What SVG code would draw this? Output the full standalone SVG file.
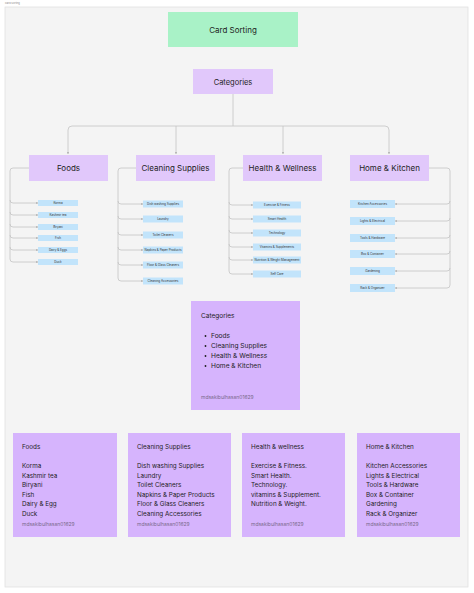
<svg xmlns="http://www.w3.org/2000/svg" width="474" height="593" viewBox="0 0 474 593">
<defs>
<style>
text{font-family:Inter,"Liberation Sans",sans-serif;fill:#1e1e1e}
.cat{fill:#e1c8fb}
.item{fill:#c2e4fb}
.note{fill:#d6b4fd}
.conn{fill:none;stroke:#c4c4c4;stroke-width:0.8}
.it{font-size:3px;text-anchor:middle;fill:#333}
.ct{font-size:8px;text-anchor:middle}
.nt{font-size:6.3px}
.au{font-size:5px;fill:#7a6a8c}
</style>
<marker id="ar" viewBox="0 0 4 4" refX="3.5" refY="2" markerWidth="3" markerHeight="3" orient="auto"><path d="M0,0 L4,2 L0,4 z" fill="#b8b8b8"/></marker>
</defs>
<rect x="0" y="0" width="474" height="593" fill="#ffffff"/>
<text x="5" y="4" style="font-size:2.5px;fill:#888">Card Sorting</text>
<rect x="5" y="7" width="463" height="580" fill="#f4f4f4" stroke="#e2e2e2" stroke-width="0.8"/>

<g id="connectors">
<path class="conn" d="M233,94 V126"/>
<path class="conn" marker-end="url(#ar)" d="M233,126 H72 Q68,126 68,130 V154"/>
<path class="conn" marker-end="url(#ar)" d="M176,126 V154"/>
<path class="conn" marker-end="url(#ar)" d="M283,126 V154"/>
<path class="conn" marker-end="url(#ar)" d="M233,126 H385 Q389,126 389,130 V154"/>
<!-- Foods -->
<path class="conn" marker-end="url(#ar)" d="M29,168 H13 Q10,168 10,171 V200 Q10,203 13,203 H38"/>
<path class="conn" marker-end="url(#ar)" d="M10,200 V212 Q10,215 13,215 H38"/>
<path class="conn" marker-end="url(#ar)" d="M10,212 V224 Q10,227 13,227 H38"/>
<path class="conn" marker-end="url(#ar)" d="M10,224 V235 Q10,238 13,238 H38"/>
<path class="conn" marker-end="url(#ar)" d="M10,235 V247 Q10,250 13,250 H38"/>
<path class="conn" marker-end="url(#ar)" d="M10,247 V259 Q10,262 13,262 H38"/>
<!-- Cleaning -->
<path class="conn" marker-end="url(#ar)" d="M136,168 H121 Q118,168 118,171 V201 Q118,204 121,204 H143"/>
<path class="conn" marker-end="url(#ar)" d="M118,201 V216 Q118,219 121,219 H143"/>
<path class="conn" marker-end="url(#ar)" d="M118,216 V232 Q118,235 121,235 H143"/>
<path class="conn" marker-end="url(#ar)" d="M118,232 V247 Q118,250 121,250 H143"/>
<path class="conn" marker-end="url(#ar)" d="M118,247 V262 Q118,265 121,265 H143"/>
<path class="conn" marker-end="url(#ar)" d="M118,262 V278 Q118,281 121,281 H143"/>
<!-- Health -->
<path class="conn" marker-end="url(#ar)" d="M243,168 H232 Q229,168 229,171 V202 Q229,205 232,205 H253"/>
<path class="conn" marker-end="url(#ar)" d="M229,202 V216 Q229,219 232,219 H253"/>
<path class="conn" marker-end="url(#ar)" d="M229,216 V230 Q229,233 232,233 H253"/>
<path class="conn" marker-end="url(#ar)" d="M229,230 V244 Q229,247 232,247 H253"/>
<path class="conn" marker-end="url(#ar)" d="M229,244 V257 Q229,260 232,260 H253"/>
<path class="conn" marker-end="url(#ar)" d="M229,257 V271 Q229,274 232,274 H253"/>
<!-- Home -->
<path class="conn" marker-end="url(#ar)" d="M429,168 H447 Q450,168 450,171 V201 Q450,204 447,204 H395"/>
<path class="conn" marker-end="url(#ar)" d="M450,201 V218 Q450,221 447,221 H395"/>
<path class="conn" marker-end="url(#ar)" d="M450,218 V235 Q450,238 447,238 H395"/>
<path class="conn" marker-end="url(#ar)" d="M450,235 V251 Q450,254 447,254 H395"/>
<path class="conn" marker-end="url(#ar)" d="M450,251 V268 Q450,271 447,271 H395"/>
<path class="conn" marker-end="url(#ar)" d="M450,268 V285 Q450,288 447,288 H395"/>
</g>

<g id="card-sorting">
<rect x="168" y="12" width="130" height="35" fill="#a9f2c7"/>
<text class="ct" x="233" y="32.5">Card Sorting</text>
</g>
<g id="categories">
<rect class="cat" x="193" y="69" width="80" height="25"/>
<text class="ct" x="233" y="84.5" style="font-size:7.5px">Categories</text>
</g>

<g id="foods">
<rect class="cat" x="29" y="155" width="79" height="26"/>
<text class="ct" x="68.5" y="171">Foods</text>
</g>
<g id="cleaning-supplies">
<rect class="cat" x="136" y="155" width="79" height="26"/>
<text class="ct" x="175.5" y="171">Cleaning Supplies</text>
</g>
<g id="health-wellness">
<rect class="cat" x="243" y="155" width="79" height="26"/>
<text class="ct" x="282.5" y="171">Health &amp; Wellness</text>
</g>
<g id="home-kitchen">
<rect class="cat" x="350" y="155" width="79" height="26"/>
<text class="ct" x="389.5" y="171">Home &amp; Kitchen</text>
</g>

<g id="foods-items">
<g id="f1"><rect class="item" x="38" y="200" width="40" height="6"/><text class="it" x="58" y="204">Korma</text></g>
<g id="f2"><rect class="item" x="38" y="212" width="40" height="6"/><text class="it" x="58" y="216">Kashmir tea</text></g>
<g id="f3"><rect class="item" x="38" y="224" width="40" height="6"/><text class="it" x="58" y="228">Biryani</text></g>
<g id="f4"><rect class="item" x="38" y="235" width="40" height="6"/><text class="it" x="58" y="239">Fish</text></g>
<g id="f5"><rect class="item" x="38" y="247" width="40" height="6"/><text class="it" x="58" y="251">Dairy &amp; Eggs</text></g>
<g id="f6"><rect class="item" x="38" y="259" width="40" height="6"/><text class="it" x="58" y="263">Duck</text></g>
</g>
<g id="cleaning-items">
<g id="c1"><rect class="item" x="143" y="200.5" width="40" height="7"/><text class="it" x="163" y="205">Dish washing Supplies</text></g>
<g id="c2"><rect class="item" x="143" y="215.5" width="40" height="7"/><text class="it" x="163" y="220">Laundry</text></g>
<g id="c3"><rect class="item" x="143" y="231.5" width="40" height="7"/><text class="it" x="163" y="236">Toilet Cleaners</text></g>
<g id="c4"><rect class="item" x="143" y="246.5" width="40" height="7"/><text class="it" x="163" y="251">Napkins &amp; Paper Products</text></g>
<g id="c5"><rect class="item" x="143" y="261.5" width="40" height="7"/><text class="it" x="163" y="266">Floor &amp; Glass Cleaners</text></g>
<g id="c6"><rect class="item" x="143" y="277.5" width="40" height="7"/><text class="it" x="163" y="282">Cleaning Accessories</text></g>
</g>
<g id="health-items">
<g id="h1"><rect class="item" x="253" y="201.5" width="48" height="7"/><text class="it" x="277" y="206">Exercise &amp; Fitness</text></g>
<g id="h2"><rect class="item" x="253" y="215.5" width="48" height="7"/><text class="it" x="277" y="220">Smart Health</text></g>
<g id="h3"><rect class="item" x="253" y="229.5" width="48" height="7"/><text class="it" x="277" y="234">Technology</text></g>
<g id="h4"><rect class="item" x="253" y="243.5" width="48" height="7"/><text class="it" x="277" y="248">Vitamins &amp; Supplements</text></g>
<g id="h5"><rect class="item" x="253" y="256.5" width="48" height="7"/><text class="it" x="277" y="261">Nutrition &amp; Weight Management</text></g>
<g id="h6"><rect class="item" x="253" y="270.5" width="48" height="7"/><text class="it" x="277" y="275">Self Care</text></g>
</g>
<g id="home-items">
<g id="k1"><rect class="item" x="350" y="200" width="45" height="8"/><text class="it" x="372.5" y="205">Kitchen Accessories</text></g>
<g id="k2"><rect class="item" x="350" y="217" width="45" height="8"/><text class="it" x="372.5" y="222">Lights &amp; Electrical</text></g>
<g id="k3"><rect class="item" x="350" y="234" width="45" height="8"/><text class="it" x="372.5" y="239">Tools &amp; Hardware</text></g>
<g id="k4"><rect class="item" x="350" y="250" width="45" height="8"/><text class="it" x="372.5" y="255">Box &amp; Container</text></g>
<g id="k5"><rect class="item" x="350" y="267" width="45" height="8"/><text class="it" x="372.5" y="272">Gardening</text></g>
<g id="k6"><rect class="item" x="350" y="284" width="45" height="8"/><text class="it" x="372.5" y="289">Rack &amp; Organizer</text></g>
</g>

<g id="note-categories">
<rect class="note" x="191" y="301" width="109" height="109"/>
<text x="201" y="318" style="font-size:6.5px">Categories</text>
<circle cx="205.5" cy="336" r="0.9" fill="#1e1e1e"/>
<circle cx="205.5" cy="346" r="0.9" fill="#1e1e1e"/>
<circle cx="205.5" cy="356" r="0.9" fill="#1e1e1e"/>
<circle cx="205.5" cy="366" r="0.9" fill="#1e1e1e"/>
<text x="211" y="338.3" style="font-size:6.6px">Foods</text>
<text x="211" y="348.3" style="font-size:6.6px">Cleaning Supplies</text>
<text x="211" y="358.3" style="font-size:6.6px">Health &amp; Wellness</text>
<text x="211" y="368.3" style="font-size:6.6px">Home &amp; Kitchen</text>
<text class="au" x="201" y="399">mdsakibulhasan01629</text>
</g>

<g id="note-foods">
<rect class="note" x="13" y="433" width="104" height="104"/>
<text class="nt" x="22" y="449">Foods</text>
<text class="nt" x="22" y="468">Korma</text>
<text class="nt" x="22" y="477.6">Kashmir tea</text>
<text class="nt" x="22" y="487.2">Biryani</text>
<text class="nt" x="22" y="496.8">Fish</text>
<text class="nt" x="22" y="506.4">Dairy &amp; Egg</text>
<text class="nt" x="22" y="516">Duck</text>
<text class="au" x="22" y="526">mdsakibulhasan01629</text>
</g>
<g id="note-cleaning">
<rect class="note" x="128" y="433" width="103" height="104"/>
<text class="nt" x="137" y="449">Cleaning Supplies</text>
<text class="nt" x="137" y="468">Dish washing Supplies</text>
<text class="nt" x="137" y="477.6">Laundry</text>
<text class="nt" x="137" y="487.2">Toilet Cleaners</text>
<text class="nt" x="137" y="496.8">Napkins &amp; Paper Products</text>
<text class="nt" x="137" y="506.4">Floor &amp; Glass Cleaners</text>
<text class="nt" x="137" y="516">Cleaning Accessories</text>
<text class="au" x="137" y="526">mdsakibulhasan01629</text>
</g>
<g id="note-health">
<rect class="note" x="242" y="433" width="103" height="104"/>
<text class="nt" x="251" y="449">Health &amp; wellness</text>
<text class="nt" x="251" y="468">Exercise &amp; Fitness.</text>
<text class="nt" x="251" y="477.6">Smart Health.</text>
<text class="nt" x="251" y="487.2">Technology.</text>
<text class="nt" x="251" y="496.8">vitamins &amp; Supplement.</text>
<text class="nt" x="251" y="506.4">Nutrition &amp; Weight.</text>
<text class="au" x="251" y="526">mdsakibulhasan01629</text>
</g>
<g id="note-home">
<rect class="note" x="357" y="433" width="103" height="104"/>
<text class="nt" x="366" y="449">Home &amp; Kitchen</text>
<text class="nt" x="366" y="468">Kitchen Accessories</text>
<text class="nt" x="366" y="477.6">Lights &amp; Electrical</text>
<text class="nt" x="366" y="487.2">Tools &amp; Hardware</text>
<text class="nt" x="366" y="496.8">Box &amp; Container</text>
<text class="nt" x="366" y="506.4">Gardening</text>
<text class="nt" x="366" y="516">Rack &amp; Organizer</text>
<text class="au" x="366" y="526">mdsakibulhasan01629</text>
</g>
</svg>
